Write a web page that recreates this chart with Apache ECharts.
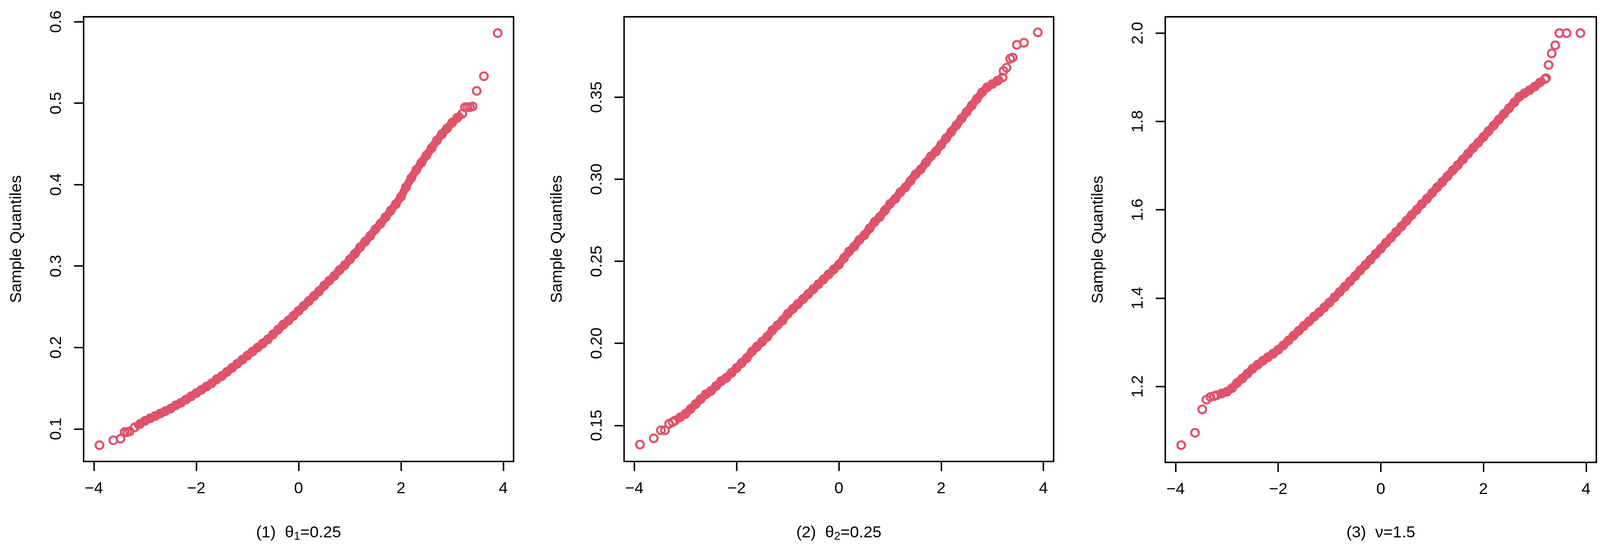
<!DOCTYPE html>
<html>
<head>
<meta charset="utf-8">
<script src="https://cdn.jsdelivr.net/npm/echarts@6/dist/echarts.min.js"></script>
<style>html,body{margin:0;padding:0;background:#fff;overflow:hidden}#main{width:100vw;height:100vh}</style>
</head>
<body>
<div id="main"></div>
<script>
// theoretical quantiles of the dense part
const xMid = [-3.2,-3.1,-3.0,-2.9,-2.8,-2.7,-2.6,-2.5,-2.4,-2.3,-2.2,-2.1,-2.0,-1.9,-1.8,-1.7,-1.6,-1.5,-1.4,-1.3,-1.2,-1.1,-1.0,-0.9,-0.8,-0.7,-0.6,-0.5,-0.4,-0.3,-0.2,-0.1,0,0.1,0.2,0.3,0.4,0.5,0.6,0.7,0.8,0.9,1.0,1.1,1.2,1.3,1.4,1.5,1.6,1.7,1.8,1.9,2.0,2.1,2.2,2.3,2.4,2.5,2.6,2.7,2.8,2.9,3.0,3.1,3.2];

// (1) theta1
const y1 = [0.102,0.106,0.110,0.113,0.116,0.119,0.122,0.125,0.129,0.132,0.136,0.140,0.144,0.148,0.152,0.156,0.161,0.165,0.170,0.175,0.180,0.185,0.190,0.195,0.200,0.205,0.210,0.216,0.222,0.228,0.233,0.239,0.245,0.251,0.257,0.263,0.269,0.276,0.282,0.288,0.295,0.301,0.308,0.315,0.323,0.330,0.337,0.345,0.352,0.360,0.368,0.376,0.385,0.397,0.408,0.418,0.427,0.436,0.445,0.454,0.462,0.469,0.476,0.482,0.487];
const tail1 = [[-3.89,0.080],[-3.62,0.086],[-3.48,0.088],[-3.40,0.096],[-3.35,0.096],[-3.30,0.097],[3.25,0.495],[3.30,0.495],[3.35,0.495],[3.40,0.496],[3.48,0.515],[3.62,0.533],[3.89,0.586]];

// (2) theta2
const y2 = [0.153,0.155,0.157,0.160,0.163,0.166,0.169,0.171,0.174,0.177,0.179,0.182,0.185,0.188,0.191,0.195,0.198,0.201,0.204,0.208,0.211,0.214,0.218,0.221,0.224,0.227,0.230,0.233,0.236,0.239,0.242,0.245,0.248,0.252,0.256,0.259,0.263,0.266,0.270,0.274,0.277,0.281,0.285,0.288,0.292,0.295,0.299,0.303,0.306,0.310,0.314,0.317,0.321,0.325,0.329,0.333,0.337,0.341,0.345,0.349,0.353,0.356,0.358,0.360,0.362];
const tail2 = [[-3.89,0.1383],[-3.62,0.1421],[-3.48,0.147],[-3.40,0.147],[-3.32,0.151],[-3.25,0.152],[3.22,0.366],[3.28,0.368],[3.35,0.3734],[3.40,0.3742],[3.48,0.3819],[3.62,0.3832],[3.89,0.3895]];

// (3) nu
const y3 = [1.180,1.184,1.188,1.196,1.208,1.218,1.229,1.240,1.249,1.258,1.266,1.274,1.283,1.293,1.304,1.315,1.326,1.337,1.347,1.358,1.368,1.379,1.390,1.402,1.414,1.426,1.438,1.450,1.463,1.475,1.487,1.500,1.512,1.525,1.537,1.550,1.562,1.575,1.588,1.600,1.613,1.625,1.638,1.651,1.663,1.676,1.689,1.701,1.714,1.727,1.740,1.752,1.765,1.778,1.791,1.804,1.817,1.830,1.843,1.856,1.864,1.871,1.879,1.888,1.896];
const tail3 = [[-3.89,1.067],[-3.62,1.095],[-3.48,1.148],[-3.40,1.170],[-3.32,1.176],[-3.25,1.178],[3.22,1.898],[3.27,1.928],[3.33,1.954],[3.40,1.9725],[3.48,2.0],[3.62,2.0],[3.89,2.0]];

const xTicks = [-4, -2, 0, 2, 4];
const yTicks1 = [0.1, 0.2, 0.3, 0.4, 0.5, 0.6];
const yTicks2 = [0.15, 0.20, 0.25, 0.30, 0.35];
const yTicks3 = [1.2, 1.4, 1.6, 1.8, 2.0];

const panels = [
    { left: 227, width: 1167, yMin: 0.06, yMax: 0.606, ys: y1, tail: tail1, yTicks: yTicks1, dec: 1, title: '{n|(1)  θ}{s|1}{n|=0.25}' },
    { left: 1694, width: 1166, yMin: 0.128, yMax: 0.399, ys: y2, tail: tail2, yTicks: yTicks2, dec: 2, title: '{n|(2)  θ}{s|2}{n|=0.25}' },
    { left: 3163, width: 1170, yMin: 1.028, yMax: 2.037, ys: y3, tail: tail3, yTicks: yTicks3, dec: 1, title: '{n|(3)  ν=1.5}' }
];

const font = 'Liberation Sans, Arial, sans-serif';
const red = '#DF536B';
const minus = v => String(v).replace('-', '\u2212');

// scale the 4343x1393 layout to whatever the window really is
const el = document.getElementById('main');
const sx = el.clientWidth / 4343, sy = el.clientHeight / 1393, s = Math.min(sx, sy);

let grid = [], xAxis = [], yAxis = [], series = [];
panels.forEach(function (p, i) {
    grid.push({ left: p.left * sx, width: p.width * sx, top: 43 * sy, height: 1141 * sy, show: true, borderColor: '#000', borderWidth: 4 * s, backgroundColor: 'transparent' });
    xAxis.push({
        type: 'value', gridIndex: i, min: -4.2, max: 4.2,
        axisLine: { show: false, onZero: false }, splitLine: { show: false },
        axisTick: { show: true, length: 26 * s, lineStyle: { color: '#000', width: 4 * s }, customValues: xTicks },
        axisLabel: { margin: 52 * s, fontSize: 44 * s, fontFamily: font, color: '#000', customValues: xTicks, formatter: minus },
        name: p.title, nameLocation: 'middle', nameGap: 170 * s,
        nameTextStyle: { fontFamily: font, color: '#000', rich: { n: { fontSize: 44 * s, fontFamily: font, color: '#000' }, s: { fontSize: 31 * s, fontFamily: font, color: '#000', verticalAlign: 'bottom', padding: [18 * s, 0, 0, 0] } } }
    });
    yAxis.push({
        type: 'value', gridIndex: i, min: p.yMin, max: p.yMax,
        axisLine: { show: false, onZero: false }, splitLine: { show: false },
        axisTick: { show: true, length: 26 * s, lineStyle: { color: '#000', width: 4 * s }, customValues: p.yTicks },
        axisLabel: { rotate: 90, margin: 52 * s, fontSize: 44 * s, fontFamily: font, color: '#000', customValues: p.yTicks, formatter: v => v.toFixed(p.dec) },
        name: 'Sample Quantiles', nameLocation: 'middle', nameGap: 160 * s,
        nameTextStyle: { fontSize: 44 * s, fontFamily: font, color: '#000' }
    });
    let pts = xMid.map((x, k) => [x, p.ys[k]]);
    series.push({
        type: 'line', xAxisIndex: i, yAxisIndex: i, data: pts, symbol: 'none', showSymbol: false,
        lineStyle: { color: red, width: 22 * s }, silent: true, z: 1
    });
    series.push({
        type: 'scatter', xAxisIndex: i, yAxisIndex: i, data: pts.concat(p.tail),
        symbol: 'circle', symbolSize: 21 * s,
        itemStyle: { color: 'rgba(0,0,0,0)', borderColor: red, borderWidth: 5.5 * s, opacity: 1 }, z: 2
    });
});

let myChart = echarts.init(el);
myChart.setOption({ animation: false, backgroundColor: '#fff', grid: grid, xAxis: xAxis, yAxis: yAxis, series: series });
</script>
</body>
</html>
